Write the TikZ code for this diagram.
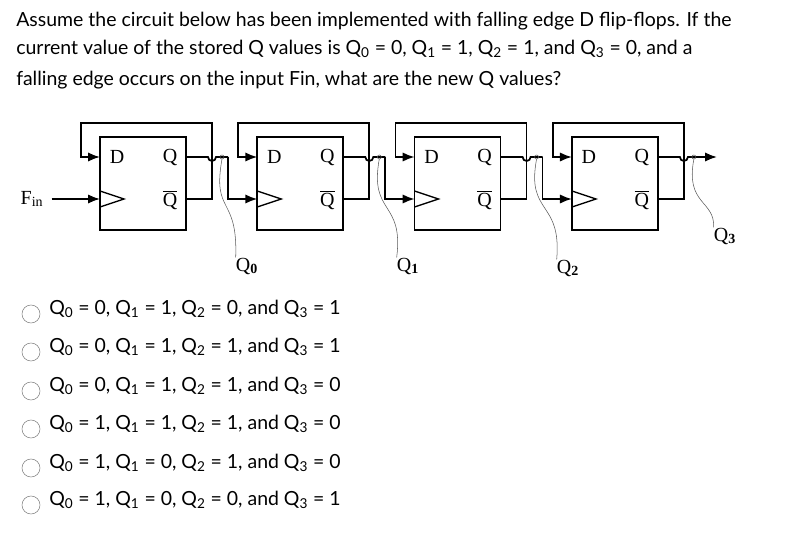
\documentclass[tikz,border=0pt]{standalone}
\usepackage{fontspec}
\setmainfont{Liberation Serif}
\newfontfamily\qfont{Lato}
\usetikzlibrary{arrows.meta}
\begin{document}
\begin{tikzpicture}[x=0.75pt, y=-0.75pt]
      \tikzstyle{wire} = [line width=1.3pt]
      \tikzstyle{ff} = [
        draw,
        rectangle,
        line width=1.3pt,
        minimum width=64.5pt,
        minimum height=69.75pt,
        inner sep=0pt
      ]
      \tikzstyle{pin} = [font=\fontsize{15}{17}\selectfont, inner sep=0pt]
      \tikzstyle{tap} = [thin, gray!70!black]
      \tikzstyle{txt} = [font=\qfont\fontsize{14.6}{17}\selectfont, anchor=west, inner sep=0pt]
      \tikzstyle{opt} = [draw, circle, gray, minimum size=13.5pt, inner sep=0pt]
      \tikzstyle{arr} = [-{Latex[length=9pt,width=7pt]}]

      \useasboundingbox (0,0) rectangle (807,542);

      % question
      \node[txt] (line1) at (16,21) {Assume the circuit below has been implemented with falling edge D flip-flops. If the};
      \node[txt] (line2) at (16,49) {current value of the stored Q values is Q\textsubscript{0} = 0, Q\textsubscript{1} = 1, Q\textsubscript{2} = 1, and Q\textsubscript{3} = 0, and a};
      \node[txt] (line3) at (16,80) {falling edge occurs on the input Fin, what are the new Q values?};

      % flip-flops
      \foreach \i in {0,...,3}{
        \pgfmathsetmacro\L{100+157.3*\i}
        \node[ff] (ff\i) at (\L+43,183.5) {};
        \coordinate (d\i) at (\L,157);
        \coordinate (c\i) at (\L,199);
        \node[pin] (dl\i) at (\L+17,157) {D};
        \node[pin] (ql\i) at (\L+70,157) {Q};
        \node[pin] (qbl\i) at (\L+70,200) {$\overline{\mbox{Q}}$};
        \draw[line width=1pt] (\L,191) -- (\L+24,199) -- (\L,207);
        \draw[wire, arr] (\L+86,199) -- (\L+112,199) -- (\L+112,123)
          -- (\L-19,123) -- (\L-19,157) -- (d\i);
        \draw[wire] (\L+86,157) -- (\L+108,157) arc (180:0:4) -- (\L+128,157);
        \draw[tap] (\L+122,157) circle (2);
      }

      \node[pin] (fin) at (32,199) {F\textsubscript{in}};
      \draw[wire, arr] (fin.east) ++(8,0) -- (c0);
      \draw[wire, arr] (228,157) |- (c1);
      \draw[wire, arr] (385.3,157) |- (c2);
      \draw[wire, arr] (542.6,157) |- (c3);
      \draw[wire, arr] (699.9,157) -- (717,157);

      % output taps
      \node[pin] (qo0) at (247,266) {Q\textsubscript{\textbf{0}}};
      \node[pin] (qo1) at (408,266) {Q\textsubscript{\textbf{1}}};
      \node[pin] (qo2) at (568,268) {Q\textsubscript{\textbf{2}}};
      \node[pin] (qo3) at (725,236) {Q\textsubscript{\textbf{3}}};
      \draw[tap] (222,159) .. controls (212,215) and (238,195) .. (qo0.north west);
      \draw[tap] (379.3,159) .. controls (369,215) and (404,200) .. (qo1.north west);
      \draw[tap] (536.6,159) .. controls (526,215) and (562,200) .. (qo2.north west);
      \draw[tap] (693.9,159) .. controls (685,205) and (715,200) .. (qo3.north west);

      % answers
      \foreach \y/\t in {
        309/{Q\textsubscript{0} = 0, Q\textsubscript{1} = 1, Q\textsubscript{2} = 0, and Q\textsubscript{3} = 1},
        347/{Q\textsubscript{0} = 0, Q\textsubscript{1} = 1, Q\textsubscript{2} = 1, and Q\textsubscript{3} = 1},
        386/{Q\textsubscript{0} = 0, Q\textsubscript{1} = 1, Q\textsubscript{2} = 1, and Q\textsubscript{3} = 0},
        424/{Q\textsubscript{0} = 1, Q\textsubscript{1} = 1, Q\textsubscript{2} = 1, and Q\textsubscript{3} = 0},
        463/{Q\textsubscript{0} = 1, Q\textsubscript{1} = 0, Q\textsubscript{2} = 1, and Q\textsubscript{3} = 0},
        500/{Q\textsubscript{0} = 1, Q\textsubscript{1} = 0, Q\textsubscript{2} = 0, and Q\textsubscript{3} = 1}}{
        \node[opt] (o\y) at (31,\y+5) {};
        \node[txt] (a\y) at (49,\y) {\t};
      }
\end{tikzpicture}
\end{document}
